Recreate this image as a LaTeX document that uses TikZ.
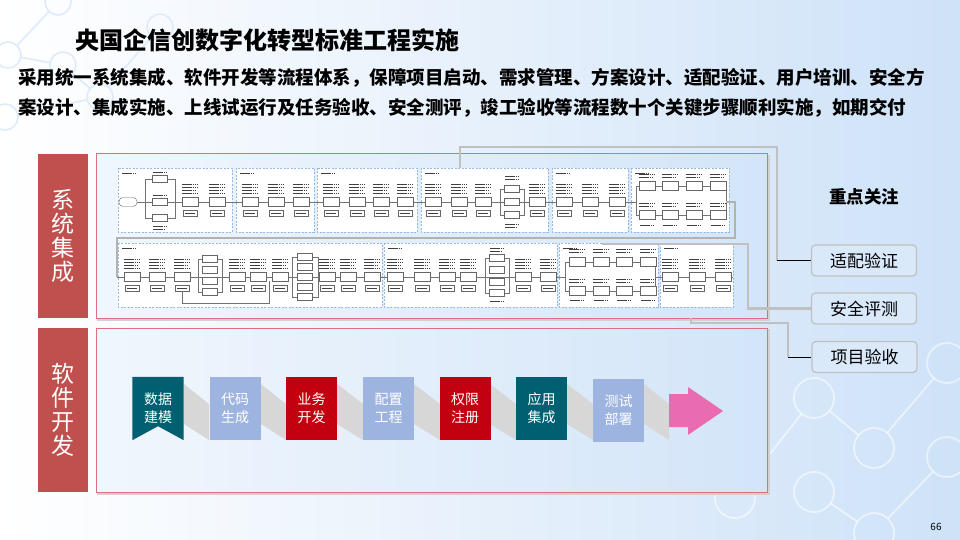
\documentclass[tikz,border=0pt]{standalone}
\usepackage{fontspec}
\setmainfont{Noto Sans CJK SC}
\usepackage{tikz}
\usetikzlibrary{positioning,calc,backgrounds}
\pgfdeclarelayer{edgelayer}
\pgfdeclarelayer{nodelayer}
\pgfsetlayers{background,edgelayer,nodelayer,main}
\definecolor{sidered}{RGB}{192,80,77}
\definecolor{framered}{RGB}{221,112,126}
\definecolor{tealbox}{RGB}{0,95,112}
\definecolor{paleblue}{RGB}{158,180,224}
\definecolor{deepred}{RGB}{195,0,16}
\definecolor{pinkarrow}{RGB}{233,108,176}
\definecolor{foldgray}{RGB}{215,215,215}
\definecolor{leadgray}{RGB}{192,192,192}
\definecolor{tagfill}{RGB}{218,233,250}
\definecolor{bgblue}{RGB}{206,226,248}
\definecolor{panelblue}{RGB}{150,185,225}
\tikzstyle{none}=[inner sep=0mm]
\tikzstyle{side}=[fill=sidered, text=white, minimum width=50pt, minimum height=164pt, inner sep=0pt, align=center, font=\fontsize{23}{24}\selectfont]
\tikzstyle{frame}=[draw=framered, line width=1pt]
\tikzstyle{swbox}=[minimum width=51pt, minimum height=63pt, inner sep=0pt, align=center, text=white, font=\fontsize{14}{18}\selectfont]
\tikzstyle{tealstep}=[swbox]
\tikzstyle{palestep}=[swbox, fill=paleblue]
\tikzstyle{redstep}=[swbox, fill=deepred]
\tikzstyle{tag}=[draw=leadgray, line width=1.2pt, rounded corners=4pt, fill=tagfill, minimum width=105pt, minimum height=31pt, inner sep=0pt, font=\fontsize{17}{17}\selectfont]
\tikzstyle{callout}=[draw=leadgray, line width=2.5pt]
\tikzstyle{lead}=[draw=black, line width=0.6pt]
\tikzstyle{panel}=[draw=panelblue, fill=white, line width=0.5pt, dash pattern=on 2pt off 1.5pt]
\tikzstyle{mini}=[draw=black!60, fill=white, line width=0.4pt, minimum width=16pt, minimum height=9pt, inner sep=0pt]
\tikzstyle{stack}=[mini, minimum width=15pt, minimum height=7pt]
\tikzstyle{note}=[draw=black!60, fill=white, line width=0.4pt, minimum width=14pt, minimum height=6pt, inner sep=0pt]
\tikzstyle{flow}=[draw=black!55, line width=0.5pt]
\tikzstyle{wrap}=[draw=black!30, line width=1.2pt]
\tikzstyle{scribble}=[draw=black!75, line width=0.9pt, dash pattern=on 1.6pt off 0.5pt]
\tikzstyle{deco}=[draw=white, line width=1.8pt, opacity=0.55]
\tikzstyle{decolight}=[draw=bgblue!70, line width=1.6pt]

\begin{document}
\begin{tikzpicture}[x=1pt,y=-1pt]
	\useasboundingbox (0,0) rectangle (960,540);
	\begin{pgfonlayer}{nodelayer}
		\node [style=none, anchor=west, font=\bfseries\fontsize{24}{24}\selectfont] (0) at (75,40) {央国企信创数字化转型标准工程实施};
		\node [style=none, anchor=west, font=\bfseries\fontsize{18.5}{18.5}\selectfont] (1) at (18,78) {采用统一系统集成、软件开发等流程体系，保障项目启动、需求管理、方案设计、适配验证、用户培训、安全方};
		\node [style=none, anchor=west, font=\bfseries\fontsize{18.5}{18.5}\selectfont] (2) at (18,108) {案设计、集成实施、上线试运行及任务验收、安全测评，竣工验收等流程数十个关键步骤顺利实施，如期交付};
		\node [style=side] (3) at (63,236) {系\\统\\集\\成};
		\node [style=side] (4) at (63,410) {软\\件\\开\\发};
		\node [style=none, font=\bfseries\fontsize{17.5}{17.5}\selectfont] (5) at (864,197) {重点关注};
		\node [style=tag] (6) at (864,260.5) {适配验证};
		\node [style=tag] (7) at (864,308.5) {安全评测};
		\node [style=tag] (8) at (864.5,357) {项目验收};
		\node [style=tealstep] (9) at (158,408.5) {数据\\建模};
		\node [style=palestep] (10) at (235,408.5) {代码\\生成};
		\node [style=redstep] (11) at (311.5,408.5) {业务\\开发};
		\node [style=palestep] (12) at (388.5,408.5) {配置\\工程};
		\node [style=redstep] (13) at (465,408.5) {权限\\注册};
		\node [style=tealstep, fill=tealbox] (14) at (541.5,408.5) {应用\\集成};
		\node [style=palestep] (15) at (618.5,410) {测试\\部署};
		\node [style=none, font=\fontsize{10}{10}\selectfont] (16) at (936,527) {66};
		\node [style=mini, rounded corners=4pt, minimum width=18pt] (17) at (128,202) {};
		\foreach \x in {190,217,250,276,301,331,357,381,405,433,459,483,537,564,590,617} {
			\node [style=mini] (a\x) at (\x,202) {};
			\node [style=note] (n\x) at (\x,213) {};
			\draw [style=scribble] (\x-8,184) -- (\x+8,184) (\x-8,187) -- (\x+8,187) (\x-8,190) -- (\x+6,190) (\x-8,193) -- (\x+8,193) (\x-5,213) -- (\x+5,213);
		}
		\foreach \y in {179,202,218} \node [style=stack] (b\y) at (160,\y) {};
		\draw [style=scribble] (153,172) -- (167,172) (153,195) -- (167,195) (153,226) -- (167,226) (153,229) -- (165,229);
		\foreach \y in {189,202,215} \node [style=stack] (c\y) at (512,\y) {};
		\draw [style=scribble] (505,176) -- (519,176) (505,179) -- (519,179) (505,224) -- (519,224) (505,227) -- (517,227);
		\foreach \x in {647,670,694,718} {
			\node [style=mini] (d\x) at (\x,186) {};
			\node [style=mini] (e\x) at (\x,215) {};
			\draw [style=scribble] (\x-8,174) -- (\x+8,174) (\x-8,177) -- (\x+6,177) (\x-8,203) -- (\x+8,203) (\x-8,206) -- (\x+6,206) (\x-7,225) -- (\x+7,225);
		}
		\foreach \x in {132,157,182,237,258,280,327,348,372,395,422,447,468,523,548,670,697,723} {
			\node [style=mini] (f\x) at (\x,277) {};
			\node [style=note] (o\x) at (\x,288) {};
			\draw [style=scribble] (\x-8,259) -- (\x+8,259) (\x-8,262) -- (\x+8,262) (\x-8,265) -- (\x+6,265) (\x-8,268) -- (\x+8,268) (\x-5,288) -- (\x+5,288);
		}
		\foreach \y in {259,270,281,292} \node [style=stack] (g\y) at (210,\y) {};
		\foreach \y in {257,267,277,287,297} \node [style=stack] (h\y) at (305,\y) {};
		\foreach \y in {258,270,282,293} \node [style=stack] (i\y) at (497,\y) {};
		\draw [style=scribble] (490,248) -- (504,248) (490,251) -- (502,251) (490,301) -- (504,301);
		\foreach \x in {577,601,624,648} {
			\node [style=mini] (j\x) at (\x,262) {};
			\node [style=mini] (k\x) at (\x,291) {};
			\draw [style=scribble] (\x-8,249) -- (\x+8,249) (\x-8,252) -- (\x+6,252) (\x-8,279) -- (\x+8,279) (\x-8,282) -- (\x+6,282) (\x-7,300) -- (\x+7,300);
		}
		\foreach \a/\b in {118/168,236/168,317/168,421/168,552/168,631/168,118/243,384/243,559/243,660/243}
			\draw [style=scribble] (\a+4,\b+5) -- (\a+18,\b+5);
	\end{pgfonlayer}
	\begin{pgfonlayer}{background}
		\shade [left color=white, right color=bgblue] (0,0) rectangle (960,540);
		\foreach \p/\q in {814/398, 874/448, 947/363, 947/457, 814/492, 874/533, 735/498}
			\draw [style=deco] (\p,\q) circle (20);
		\foreach \p/\q/\r/\s in {814/398/874/448, 874/448/947/363, 814/398/735/498, 814/492/874/533, 874/533/947/457}
			\draw [style=deco, shorten <=20pt, shorten >=20pt] (\p,\q) -- (\r,\s);
		\foreach \p/\q in {58/2, 8/55, 63/65, 160/27, 100/97, 5/117}
			\draw [style=decolight] (\p,\q) circle (13);
		\foreach \p/\q/\r/\s in {58/2/8/55, 8/55/63/65, 63/65/100/97, 100/97/160/27, 100/97/5/117}
			\draw [style=decolight, shorten <=13pt, shorten >=13pt] (\p,\q) -- (\r,\s);
		\foreach \t/\b in {154/318, 328/492} {
			\draw [black!18, line width=1.5pt] (98,\t+2) rectangle (769,\b+2);
			\shade [left color=white!70!bgblue, right color=bgblue!90!white] (96,\t) rectangle (767,\b);
			\draw [style=frame] (96,\t) rectangle (767,\b);
		}
		\foreach \a/\b/\c/\d in {118/168/232/232, 236/168/314/232, 317/168/417/232, 421/168/548/232, 552/168/628/232, 631/168/729/232, 118/243/382/307, 384/243/557/307, 559/243/658/307, 660/243/733/307}
			\draw [style=panel] (\a,\b) rectangle (\c,\d);
		\foreach \p/\q in {184/209, 261/286, 337/363, 414/440, 490/516, 567/593, 644/669}
			\fill [foldgray] (\p,384) -- (\q,404) -- (\q,440) -- (\p,424) -- cycle;
		\fill [tealbox] (9.north west) -- (9.north east) -- (9.south east) -- ($(9.south)+(0,-14)$) -- (9.south west) -- cycle;
		\fill [pinkarrow] (669,394) -- (688,394) -- (688,387) -- (723,411) -- (688,435) -- (688,427) -- (669,427) -- cycle;
	\end{pgfonlayer}
	\begin{pgfonlayer}{edgelayer}
		\coordinate (18) at (120,202);
		\coordinate (19) at (636,202);
		\coordinate (20) at (117,277);
		\coordinate (21) at (565,277);
		\coordinate (22) at (655,277);
		\coordinate (23) at (733,277);
		\coordinate (24) at (726,202);
		\coordinate (25) at (735,238);
		\draw [style=flow] (18) to (19);
		\draw [style=flow] (20) to (21);
		\draw [style=flow] (22) to (23);
		\draw [style=flow] (145,179) rectangle (175,218);
		\draw [style=flow] (500,189) rectangle (524,215);
		\draw [style=flow] (636,186) rectangle (726,215);
		\draw [style=flow] (198,259) rectangle (222,292);
		\draw [style=flow] (292,257) rectangle (318,297);
		\draw [style=flow] (485,258) rectangle (509,293);
		\draw [style=flow] (565,262) rectangle (655,291);
		\draw [style=flow] (o182) |- (269,303) -- (269,281);
		\draw [style=wrap] (24) -| (25) -| (20);
		\coordinate (26) at (460,168);
		\coordinate (27) at (777,147);
		\coordinate (28) at (602,244);
		\coordinate (29) at (748,244);
		\coordinate (30) at (691,318);
		\coordinate (31) at (788,323);
		\draw [style=callout] (26) |- (27) -- (27 |- 6.west);
		\draw [style=lead] (27 |- 6.west) to (6.west);
		\draw [style=callout] (28) -- (29) |- (7.west);
		\draw [style=callout] (30) |- (31) -- (31 |- 8.west);
		\draw [style=lead] (31 |- 8.west) to (8.west);
	\end{pgfonlayer}
\end{tikzpicture}
\end{document}
